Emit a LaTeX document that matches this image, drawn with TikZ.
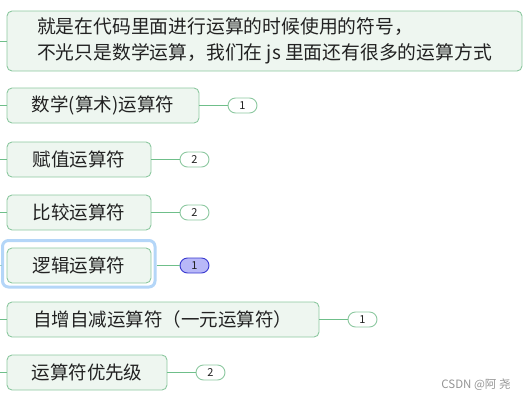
\documentclass[tikz,border=0pt]{standalone}
\usepackage{fontspec}
\setmainfont{Noto Sans CJK SC}
\newfontfamily\cjk{Noto Sans CJK SC}
\usetikzlibrary{positioning}
\definecolor{boxfill}{HTML}{EEF6F0}
\definecolor{boxline}{HTML}{8CC8A0}
\definecolor{conn}{HTML}{6FBF8A}
\definecolor{txt}{HTML}{222222}
\definecolor{selfill}{HTML}{B8B8F8}
\definecolor{selline}{HTML}{3838D0}
\definecolor{hilite}{HTML}{B4D6F8}
\tikzset{
  topic/.style={draw=boxline, fill=boxfill, line width=0.9pt, rounded corners=5pt,
    minimum height=35pt, inner sep=0pt, text=txt, font=\cjk\fontsize{18.5}{22}\selectfont},
  badge/.style={draw=boxline, fill=white, line width=0.9pt, rounded corners=7.5pt,
    minimum width=29pt, minimum height=15pt, inner sep=0pt, text=txt,
    font=\cjk\fontsize{11}{12}\selectfont},
  selbadge/.style={badge, draw=selline, fill=selfill},
  link/.style={draw=conn, line width=1pt},
}
\begin{document}
\begin{tikzpicture}[x=1pt,y=1pt]
\useasboundingbox (0,0) rectangle (531,-400);
% top description
\node[topic, minimum width=515pt, minimum height=60pt, align=left,
      font=\cjk\fontsize{18.8}{26}\selectfont] (t0) at (264.5,-41)
  {就是在代码里面进行运算的时候使用的符号，\\不光只是数学运算，我们在 js 里面还有很多的运算方式};
% topics
\node[topic, minimum width=192pt] (t1) at (103,-105.5) {数学(算术)运算符};
\node[topic, minimum width=144pt] (t2) at (79,-159.5) {赋值运算符};
\node[topic, minimum width=144pt] (t3) at (79,-212.5) {比较运算符};
\draw[hilite, line width=3pt, rounded corners=6pt] (2.5,-240.5) rectangle (155,-287);
\node[topic, minimum width=144pt] (t4) at (79,-265.5) {逻辑运算符};
\node[topic, minimum width=312pt] (t5) at (163,-319.5) {自增自减运算符（一元运算符）};
\node[topic, minimum width=160pt] (t6) at (87,-372.5) {运算符优先级};
% badges
\node[badge] (b1) at (242.5,-105.5) {1};
\node[badge] (b2) at (194.5,-159.5) {2};
\node[badge] (b3) at (194.5,-212.5) {2};
\node[selbadge] (b4) at (194.5,-265.5) {1};
\node[badge] (b5) at (362.5,-319.5) {1};
\node[badge] (b6) at (210.5,-372.5) {2};
% connectors to badges
\draw[link] (t1.east) -- (b1.west);
\draw[link] (t2.east) -- (b2.west);
\draw[link] (t3.east) -- (b3.west);
\draw[link] (156.5,-265.5) -- (b4.west);
\draw[link] (t5.east) -- (b5.west);
\draw[link] (t6.east) -- (b6.west);
% stubs from parent at the left edge
\coordinate (s0) at (0,-41);
\coordinate (s1) at (0,-105.5);
\coordinate (s2) at (0,-159.5);
\coordinate (s3) at (0,-212.5);
\coordinate (s4) at (0,-265.5);
\coordinate (s5) at (0,-319.5);
\coordinate (s6) at (0,-372.5);
\draw[link] (s0) -- (t0.west);
\draw[link] (s1) -- (t1.west);
\draw[link] (s2) -- (t2.west);
\draw[link] (s3) -- (t3.west);
\draw[link, hilite!60!conn] (s4) -- (2,-265.5);
\draw[link] (s5) -- (t5.west);
\draw[link] (s6) -- (t6.west);
% watermark
\node[text=black!42, font=\cjk\fontsize{11.5}{13}\selectfont] (wm) at (476,-385) {CSDN @阿 尧};
\end{tikzpicture}
\end{document}
